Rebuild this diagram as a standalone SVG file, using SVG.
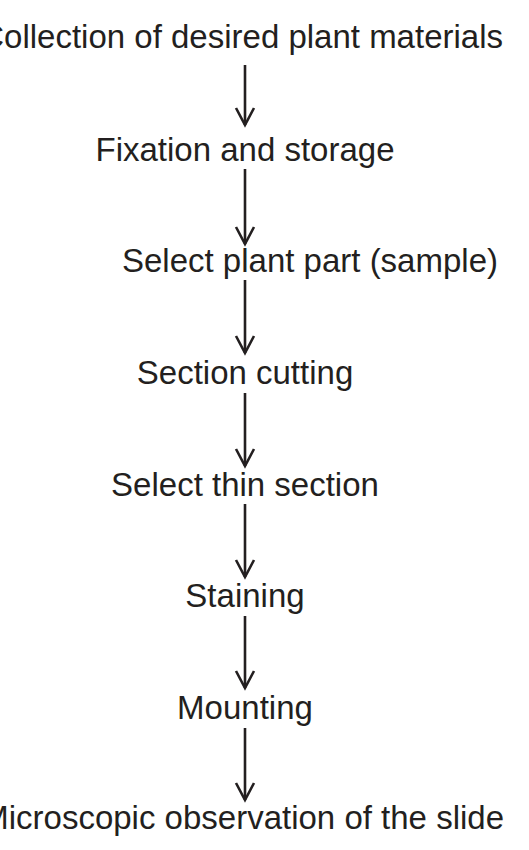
<svg xmlns="http://www.w3.org/2000/svg" width="529" height="850" viewBox="0 0 529 850">
  <style>
    .lbl { font-family: "Liberation Sans", Arial, Helvetica, sans-serif; font-size: 33px; fill: #231f20; }
    .arr { stroke: #231f20; stroke-width: 2.6; fill: none; marker-end: url(#ah); }
  </style>
  <defs>
    <marker id="ah" markerUnits="userSpaceOnUse" viewBox="-20 -12 24 24" refX="0" refY="0" markerWidth="24" markerHeight="24" orient="auto" overflow="visible">
      <path d="M -17 -9 L 0 0 L -17 9" fill="none" stroke="#231f20" stroke-width="2.6" stroke-linejoin="miter"/>
    </marker>
  </defs>
  <rect width="529" height="850" fill="#ffffff"/>
  <g id="connectors">
    <line class="arr" x1="245" y1="65" x2="245" y2="125"/>
    <line class="arr" x1="245" y1="169" x2="245" y2="244"/>
    <line class="arr" x1="245" y1="280" x2="245" y2="353"/>
    <line class="arr" x1="245" y1="393" x2="245" y2="466"/>
    <line class="arr" x1="245" y1="504" x2="245" y2="577"/>
    <line class="arr" x1="245" y1="616" x2="245" y2="688"/>
    <line class="arr" x1="245" y1="728" x2="245" y2="800"/>
  </g>
  <g id="n1"><text class="lbl" x="503" y="48" text-anchor="end">Collection of desired plant materials</text></g>
  <g id="n2"><text class="lbl" x="245" y="161" text-anchor="middle">Fixation and storage</text></g>
  <g id="n3"><text class="lbl" x="310" y="272" text-anchor="middle">Select plant part (sample)</text></g>
  <g id="n4"><text class="lbl" x="245" y="384" text-anchor="middle">Section cutting</text></g>
  <g id="n5"><text class="lbl" x="245" y="496" text-anchor="middle">Select thin section</text></g>
  <g id="n6"><text class="lbl" x="245" y="607" text-anchor="middle">Staining</text></g>
  <g id="n7"><text class="lbl" x="245" y="719" text-anchor="middle">Mounting</text></g>
  <g id="n8"><text class="lbl" x="504" y="829" text-anchor="end">Microscopic observation of the slide</text></g>
</svg>
